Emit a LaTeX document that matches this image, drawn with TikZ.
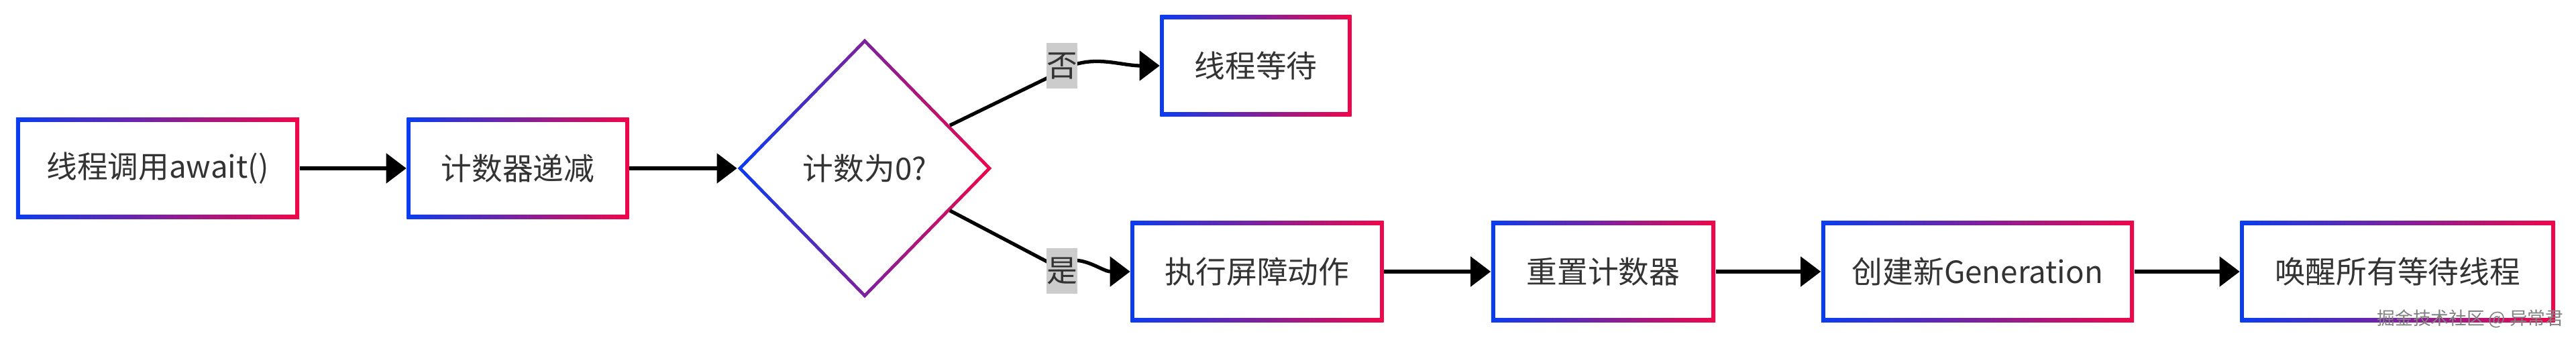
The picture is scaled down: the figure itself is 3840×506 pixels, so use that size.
\documentclass[tikz,border=0pt]{standalone}
\usepackage{fontspec}
\setmainfont{Noto Sans CJK SC}
\usetikzlibrary{shapes.geometric,arrows.meta}
\definecolor{gblue}{HTML}{0A3CF0}
\definecolor{gred}{HTML}{F0064A}
\definecolor{lblgray}{HTML}{CCCCCC}
\definecolor{txt}{HTML}{333333}
\tikzset{
  gshade/.style={shade, left color=gblue, right color=gred, draw=none, inner sep=0pt},
  inbox/.style={fill=white, inner sep=0pt, font=\fontsize{13}{15}\selectfont, text=txt},
  arr/.style={line width=1.5pt, -{Triangle[length=0.3cm,width=0.44cm]}},
  lbl/.style={fill=lblgray, inner sep=0pt, minimum width=0.43cm, minimum height=0.67cm, font=\fontsize{13}{15}\selectfont, text=txt},
}
\newcommand{\gradbox}[6]{%
  \node[gshade, minimum width=#3cm, minimum height=#4cm] (#1-b) at (#2) {};
  \node[inbox, minimum width=#3cm-0.12cm, minimum height=#4cm-0.12cm] (#1) at (#2) {#5};
}
\begin{document}
\begin{tikzpicture}[x=0.01cm,y=-0.01cm]
\useasboundingbox[fill=white] (0,0) rectangle (3840,506);
\gradbox{a}{235,251}{4.22}{1.50}{线程调用await()}{}
\gradbox{b}{772,251}{3.31}{1.50}{计数器递减}{}
\node[gshade, diamond, aspect=0.98, minimum width=3.79cm, minimum height=3.87cm] (c-b) at (1289,251) {};
\node[diamond, aspect=0.98, fill=white, inner sep=0pt, minimum width=3.65cm, minimum height=3.73cm] (c-w) at (1289,251) {};
\node[inbox, fill=none] (c) at (1289,251) {计数为0?};
\gradbox{w}{1872,98}{2.85}{1.50}{线程等待}{}
\gradbox{e}{1874,405}{3.77}{1.50}{执行屏障动作}{}
\gradbox{r}{2390,405}{3.34}{1.50}{重置计数器}{}
\gradbox{g}{2948,405}{4.66}{1.50}{创建新Generation}{}
\gradbox{h}{3574,405}{4.69}{1.50}{唤醒所有等待线程}{}
\draw[arr] (a-b.east) -- (b-b.west);
\draw[arr] (b-b.east) -- (c-b.west);
\coordinate (n1) at (1416,187);
\coordinate (n2) at (1570,112);
\coordinate (y1) at (1416,314);
\coordinate (y2) at (1572,396);
\draw[arr] (n1) -- (n2) to[out=35,in=180] (w-b.west);
\draw[arr] (y1) -- (y2) to[out=30,in=180] (e-b.west);
\node[lbl] (nl) at (1583,98) {否};
\node[lbl] (yl) at (1583,404) {是};
\draw[arr] (e-b.east) -- (r-b.west);
\draw[arr] (r-b.east) -- (g-b.west);
\draw[arr] (g-b.east) -- (h-b.west);
\node[text=gray, font=\fontsize{7.6}{9}\selectfont, anchor=east, inner sep=0pt] (wm) at (3822,475) {掘金技术社区 @ 异常君};
\end{tikzpicture}
\end{document}
